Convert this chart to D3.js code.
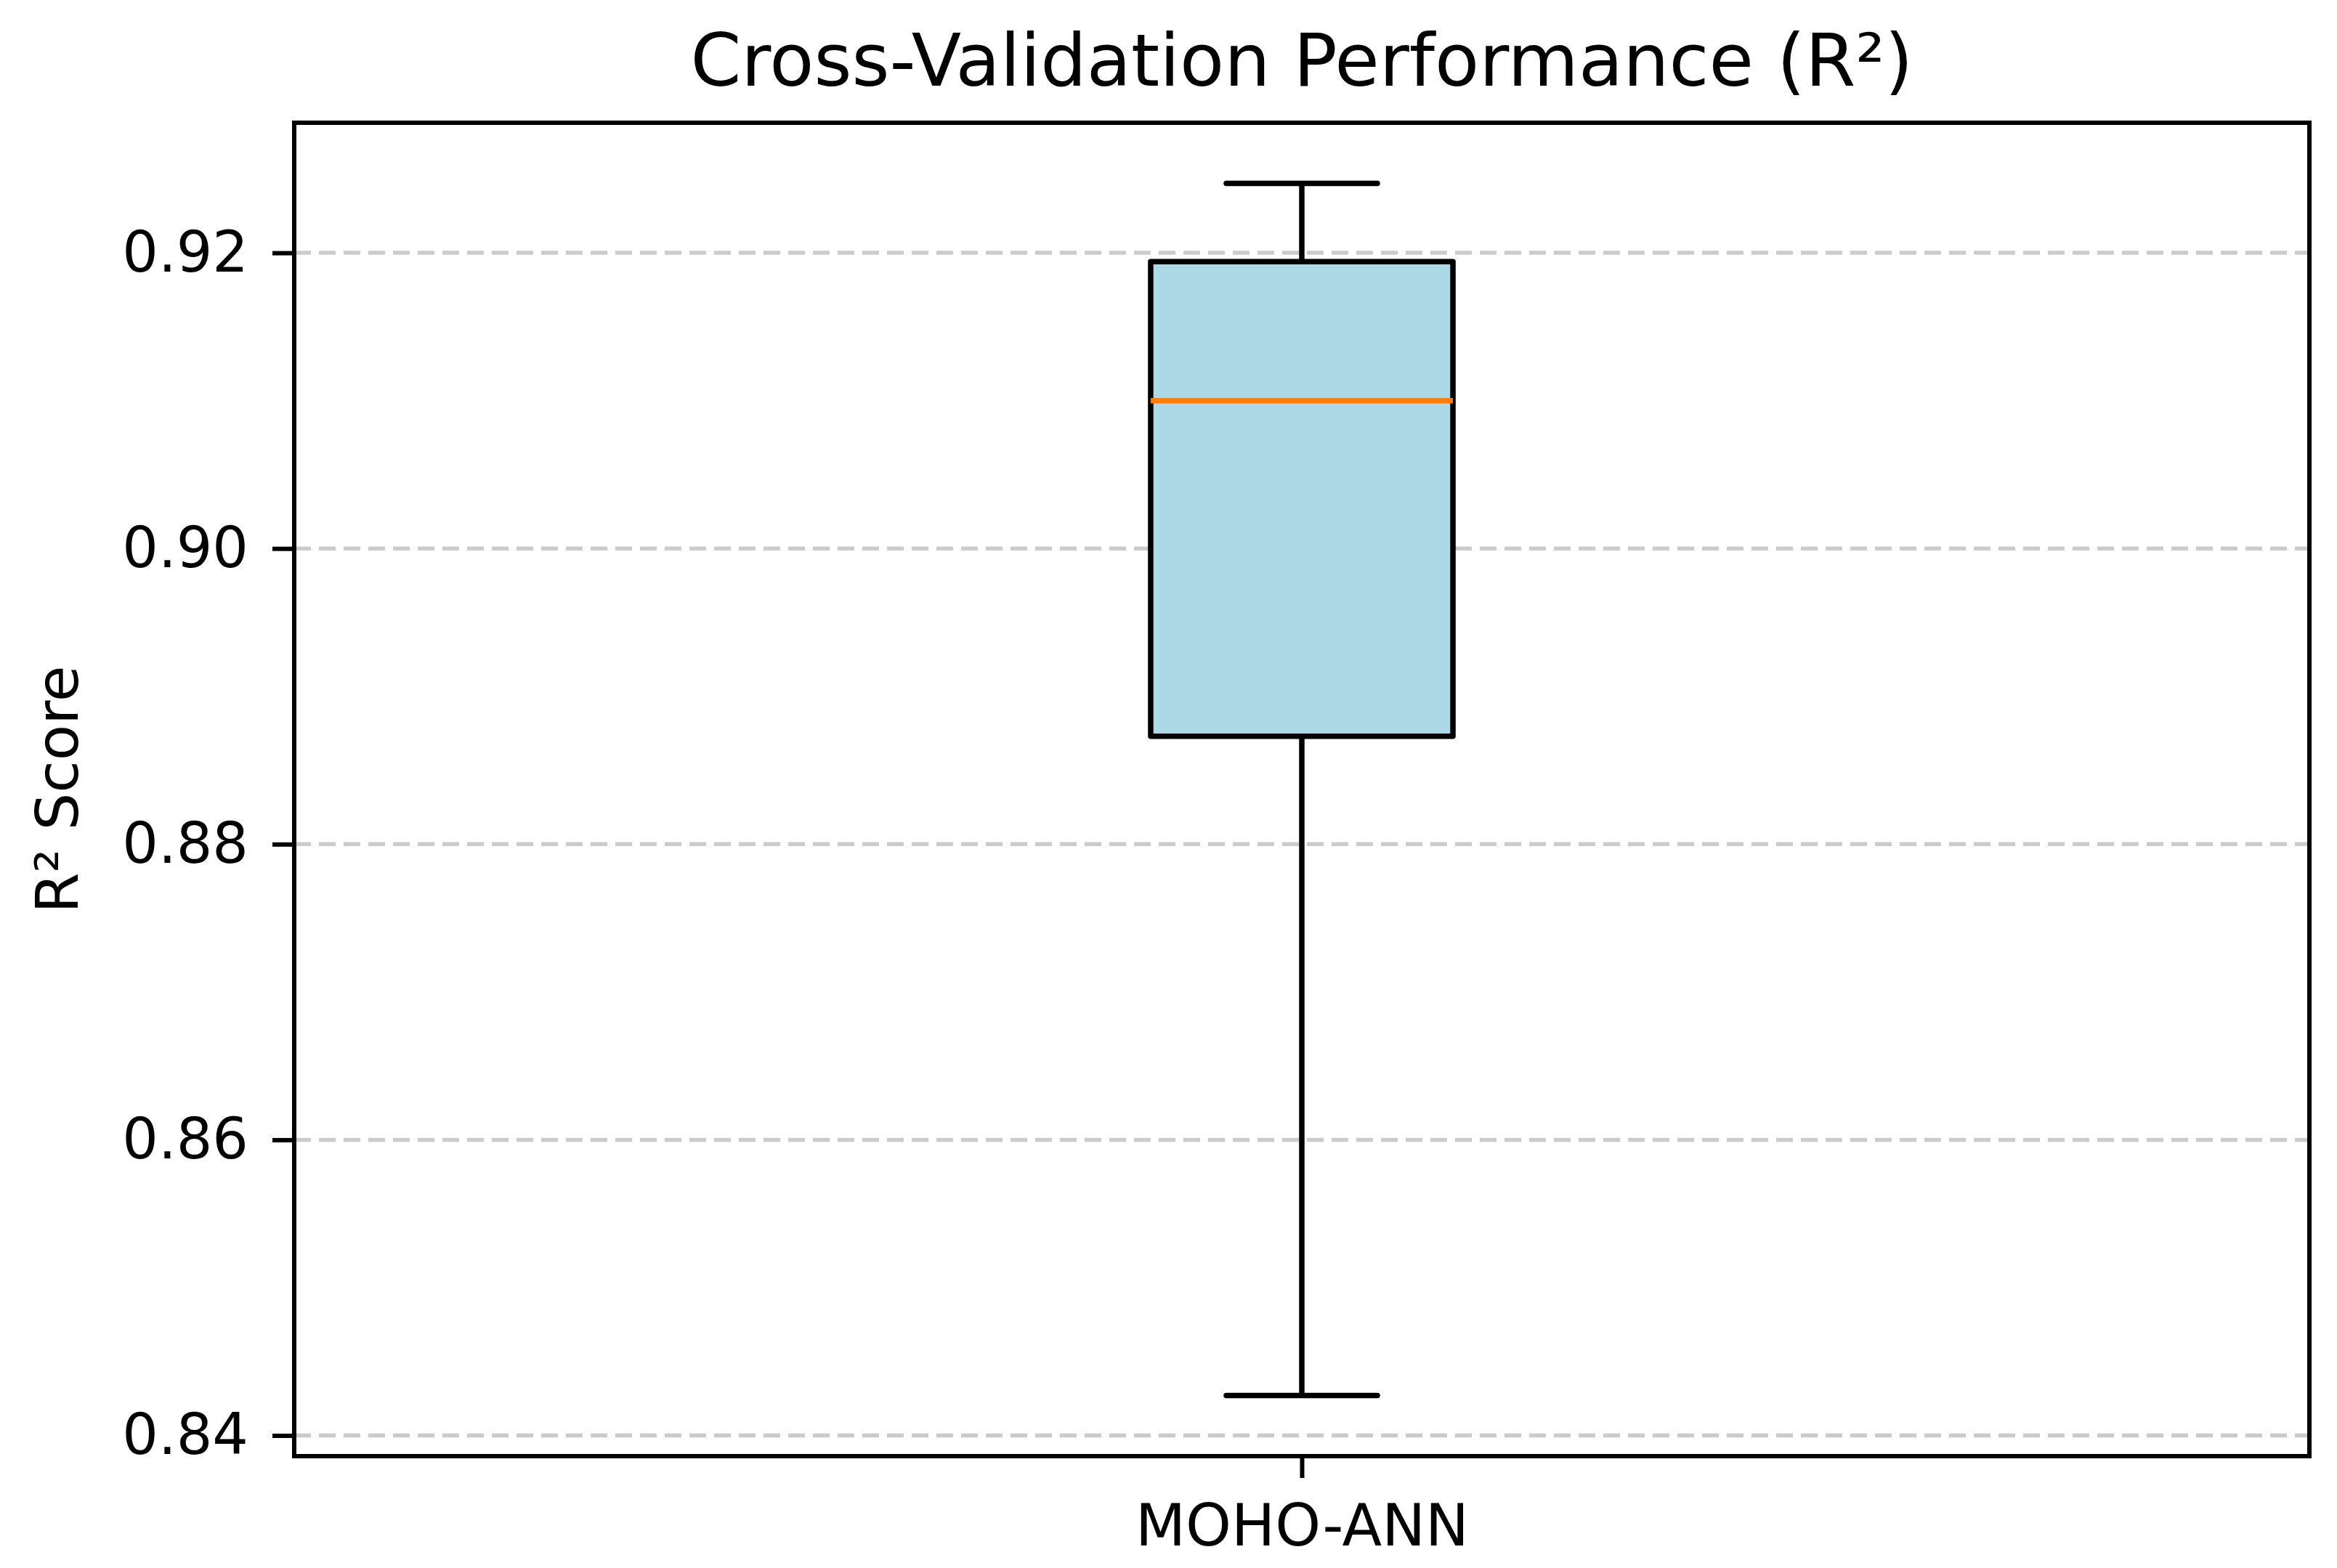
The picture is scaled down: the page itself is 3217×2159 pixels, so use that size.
<!DOCTYPE html>
<html>
<head>
<meta charset="utf-8">
<script src="https://cdn.jsdelivr.net/npm/d3@7/dist/d3.min.js"></script>
<style>
  html, body { margin: 0; padding: 0; background: #ffffff; }
  svg { display: block; }
  text { font-family: "DejaVu Sans", sans-serif; fill: #000; }
</style>
</head>
<body>
<svg id="chart" width="3217" height="2159"></svg>
<script>
// ---- data ----
const categories = ["MOHO-ANN"];
const cvScores = [0.8427, 0.8873, 0.9100, 0.9194, 0.9247];  // fold R² scores
const yTicks = [0.84, 0.86, 0.88, 0.90, 0.92];
const titleText = "Cross-Validation Performance (R²)";
const yLabelText = "R² Score";

// ---- layout ----
const W = 3217, H = 2159;
const plot = { left: 405, right: 3179, top: 169, bottom: 2005 };

const svg = d3.select("#chart");

// stats (numpy-linear quantiles)
const sorted = cvScores.slice().sort(d3.ascending);
const q1 = d3.quantile(sorted, 0.25);
const med = d3.quantile(sorted, 0.5);
const q3 = d3.quantile(sorted, 0.75);
const iqr = q3 - q1;
const loW = d3.min(sorted.filter(v => v >= q1 - 1.5 * iqr));
const hiW = d3.max(sorted.filter(v => v <= q3 + 1.5 * iqr));
const pad = (hiW - loW) * 0.05;

const y = d3.scaleLinear().domain([loW - pad, hiW + pad]).range([plot.bottom, plot.top]);
const x = d3.scaleLinear().domain([0.5, categories.length + 0.5]).range([plot.left, plot.right]);
const boxW = 0.15;

// grid
const grid = svg.append("g");
grid.selectAll("line").data(yTicks).join("line")
  .attr("x1", plot.left).attr("x2", plot.right)
  .attr("y1", d => y(d)).attr("y2", d => y(d))
  .attr("stroke", "#cbcbcb").attr("stroke-width", 5.5)
  .attr("stroke-dasharray", "23,11");

// box plot
const g = svg.append("g");
categories.forEach((cat, i) => {
  const pos = i + 1;
  const cx = x(pos);
  // whiskers
  g.append("line").attr("x1", cx).attr("x2", cx).attr("y1", y(q1)).attr("y2", y(loW))
    .attr("stroke", "#000").attr("stroke-width", 7.5);
  g.append("line").attr("x1", cx).attr("x2", cx).attr("y1", y(q3)).attr("y2", y(hiW))
    .attr("stroke", "#000").attr("stroke-width", 7.5);
  // caps
  [loW, hiW].forEach(v => {
    g.append("line")
      .attr("x1", x(pos - boxW / 4)).attr("x2", x(pos + boxW / 4))
      .attr("y1", y(v)).attr("y2", y(v))
      .attr("stroke", "#000").attr("stroke-width", 7.5).attr("stroke-linecap", "round");
  });
  // box
  g.append("rect")
    .attr("x", x(pos - boxW / 2)).attr("width", x(pos + boxW / 2) - x(pos - boxW / 2))
    .attr("y", y(q3)).attr("height", y(q1) - y(q3))
    .attr("fill", "#add8e6").attr("stroke", "#000").attr("stroke-width", 7.5)
    .attr("stroke-linejoin", "round");
  // median
  g.append("line")
    .attr("x1", x(pos - boxW / 2)).attr("x2", x(pos + boxW / 2))
    .attr("y1", y(med)).attr("y2", y(med))
    .attr("stroke", "#ff7f0e").attr("stroke-width", 7.5);
});

// axes
const yAxis = d3.axisLeft(y).tickValues(yTicks).tickFormat(d3.format(".2f"))
  .tickSize(30).tickPadding(33);
const ya = svg.append("g").attr("transform", `translate(${plot.left},0)`).call(yAxis);
ya.select(".domain").remove();
ya.selectAll(".tick line").attr("stroke", "#000").attr("stroke-width", 6);
ya.selectAll(".tick text").attr("font-size", 78).attr("font-family", "DejaVu Sans").attr("fill", "#000");

const xAxis = d3.axisBottom(x).tickValues(categories.map((c, i) => i + 1))
  .tickFormat((d, i) => categories[i]).tickSize(30).tickPadding(36);
const xa = svg.append("g").attr("transform", `translate(0,${plot.bottom})`).call(xAxis);
xa.select(".domain").remove();
xa.selectAll(".tick line").attr("stroke", "#000").attr("stroke-width", 6);
xa.selectAll(".tick text").attr("font-size", 80).attr("font-family", "DejaVu Sans").attr("fill", "#000");

// frame
svg.append("rect")
  .attr("x", plot.left).attr("y", plot.top)
  .attr("width", plot.right - plot.left).attr("height", plot.bottom - plot.top)
  .attr("fill", "none").attr("stroke", "#000").attr("stroke-width", 6);

// title
svg.append("text")
  .attr("x", (plot.left + plot.right) / 2).attr("y", 118)
  .attr("text-anchor", "middle").attr("font-size", 100)
  .text(titleText);

// y label
svg.append("text")
  .attr("transform", `translate(107,${(plot.top + plot.bottom) / 2}) rotate(-90)`)
  .attr("text-anchor", "middle").attr("font-size", 81)
  .text(yLabelText);
</script>
</body>
</html>
